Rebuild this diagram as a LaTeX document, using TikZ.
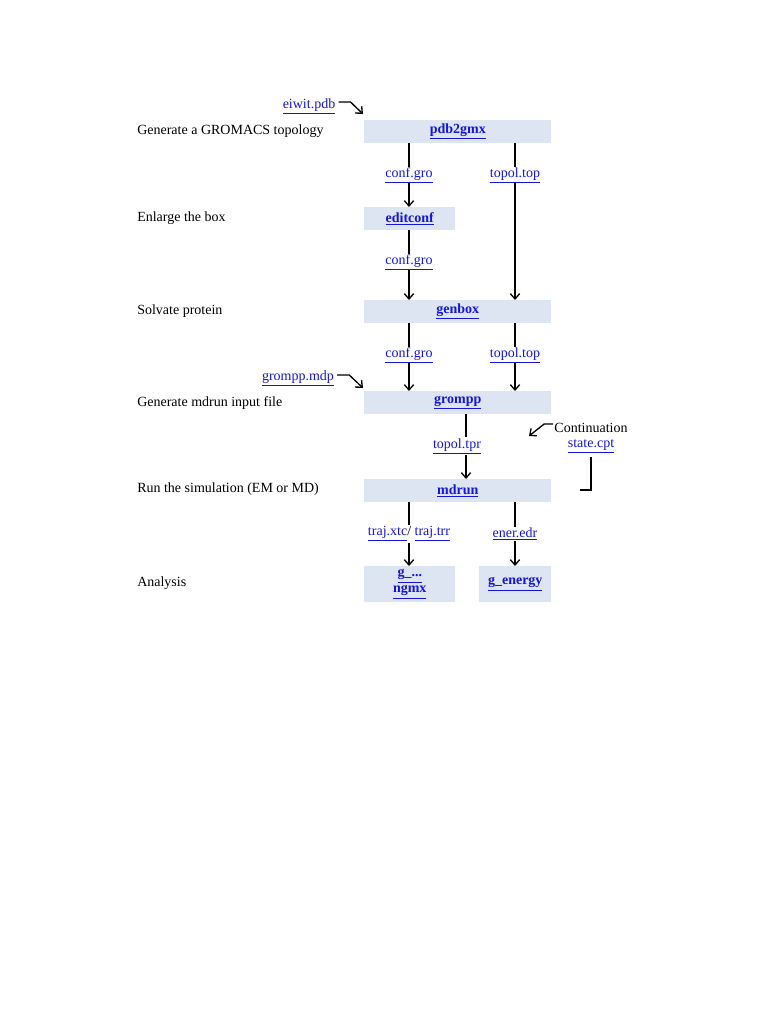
\documentclass[tikz,border=0pt]{standalone}
\usepackage{fontspec}
\setmainfont{Liberation Serif}
\usetikzlibrary{arrows.meta}
\definecolor{lnk}{RGB}{20,20,220}
\definecolor{boxc}{RGB}{220,229,241}
\newcommand{\lk}[1]{\underline{#1}}
\begin{document}
\begin{tikzpicture}[x=0.75pt,y=-0.75pt,
  every node/.style={font=\fontsize{10.5pt}{12pt}\selectfont, inner sep=0pt},
  prog/.style={fill=boxc, text=lnk, font=\fontsize{10.5pt}{12pt}\selectfont\bfseries, anchor=north west, align=center},
  file/.style={text=lnk},
  lbl/.style={anchor=west},
  con/.style={line width=1pt},
  arr/.style={line width=1pt,-{Straight Barb[length=4pt,width=7pt]}}]
\useasboundingbox (0,0) rectangle (768,1024);
% program boxes
\node[prog, minimum width=187*0.75pt, minimum height=23*0.75pt] (pdb) at (364,120) {\lk{pdb2gmx}};
\node[prog, minimum width=91*0.75pt, minimum height=23*0.75pt] (edit) at (364,207) {\lk{editconf}};
\node[prog, minimum width=187*0.75pt, minimum height=23*0.75pt] (genbox) at (364,300) {\lk{genbox}};
\node[prog, minimum width=187*0.75pt, minimum height=23*0.75pt] (grompp) at (364,391) {\lk{grompp}};
\node[prog, minimum width=187*0.75pt, minimum height=23*0.75pt] (mdrun) at (364,479) {\lk{mdrun}};
\node[prog, minimum width=91*0.75pt, minimum height=36*0.75pt] (gdots) at (364,566) {\lk{g\_...}\\\lk{ngmx}};
\node[prog, minimum width=72*0.75pt, minimum height=36*0.75pt] (gen) at (479,566) {\lk{g\_energy}};
% left labels
\node[lbl] (l1) at (137,131) {Generate a GROMACS topology};
\node[lbl] (l2) at (137,218) {Enlarge the box};
\node[lbl] (l3) at (137,311) {Solvate protein};
\node[lbl] (l4) at (137,403) {Generate mdrun input file};
\node[lbl] (l5) at (137,489) {Run the simulation (EM or MD)};
\node[lbl] (l6) at (137,583) {Analysis};
% file labels
\node[file] (f1) at (409,175) {\lk{conf.gro}};
\node[file] (f2) at (515,175) {\lk{topol.top}};
\node[file] (f3) at (409,262) {\lk{conf.gro}};
\node[file] (f4) at (409,355) {\lk{conf.gro}};
\node[file] (f5) at (515,355) {\lk{topol.top}};
\node[file] (f6) at (457,446) {\lk{topol.tpr}};
\node[file] (f7) at (409,534) {\textcolor{lnk}{\lk{traj.xtc}}\textcolor{black}{ / }\textcolor{lnk}{\lk{traj.trr}}};
\node[file] (f8) at (515,534) {\lk{ener.edr}};
\node[file] (eiwit) at (309,106) {\lk{eiwit.pdb}};
\node[file] (mdp) at (298,378) {\lk{grompp.mdp}};
\node (cont) at (591,428) {Continuation};
\node[file] (cpt) at (591,446) {\lk{state.cpt}};
% connectors
\draw[con] (409,143) -- (f1.north);
\draw[arr] (f1.south) -- (409,207);
\draw[con] (515,143) -- (f2.north);
\draw[arr] (f2.south) -- (515,300);
\draw[con] (409,230) -- (f3.north);
\draw[arr] (f3.south) -- (409,300);
\draw[con] (409,323) -- (f4.north);
\draw[arr] (f4.south) -- (409,391);
\draw[con] (515,323) -- (f5.north);
\draw[arr] (f5.south) -- (515,391);
\draw[con] (466,414) -- (466,437);
\draw[arr] (466,455) -- (466,479);
\draw[con] (409,502) -- (409,525);
\draw[arr] (409,543) -- (409,566);
\draw[con] (515,502) -- (f8.north);
\draw[arr] (f8.south) -- (515,566);
\draw[arr] (eiwit.east) ++(3,-4) -- ++(12,0) -- (363,114);
\draw[arr] (mdp.east) ++(3,-3) -- ++(12,0) -- (363,388);
\draw[arr] (cont.west) ++(-1,-4) -- ++(-9,0) -- (529,436);
\draw[con] (cpt.south) ++(0,4) -- (591,490) -- (580,490);
\end{tikzpicture}
\end{document}
